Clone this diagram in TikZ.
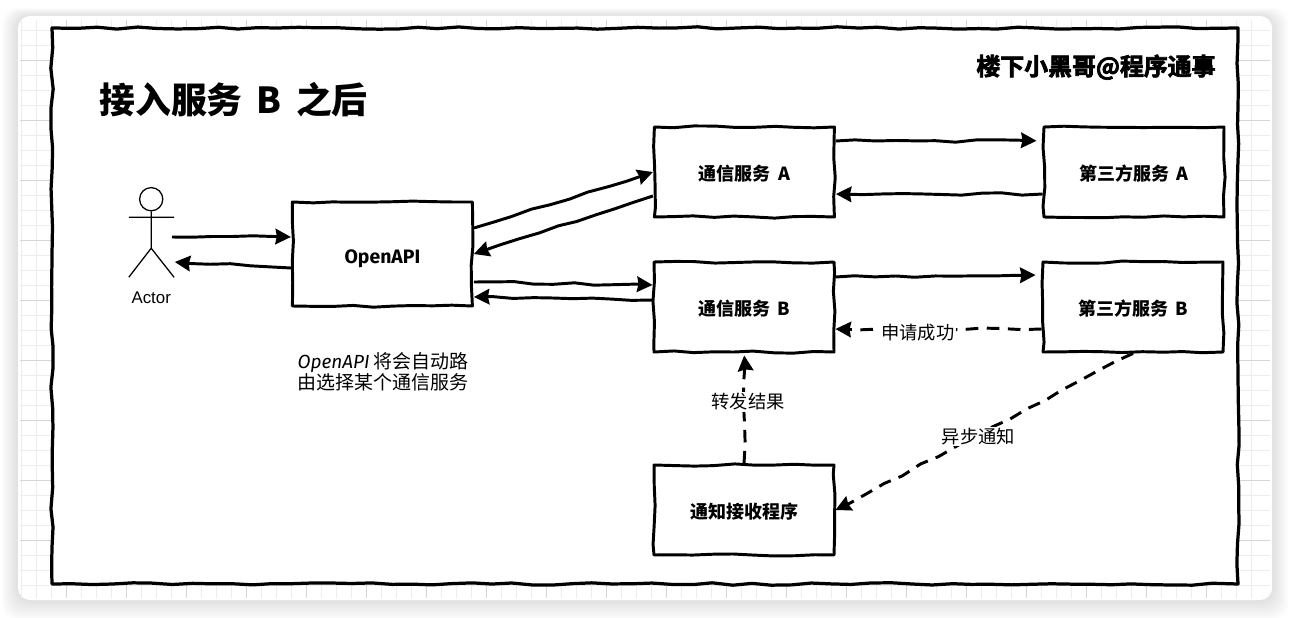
\documentclass[tikz,border=0pt]{standalone}
\usepackage{fontspec}
\usetikzlibrary{
    arrows.meta,
    decorations.pathmorphing,
    positioning
}
\setmainfont{Noto Sans CJK SC}
\newfontfamily\handfont{Fira Sans}
\newfontfamily\actorfont{Liberation Sans}
\newfontfamily\markfont[FakeBold=3]{Noto Sans CJK SC Bold}
\tikzset{
    sketchy/.style={decorate, decoration={random steps, segment length=0.5cm, amplitude=0.03cm}},
    svcbox/.style={draw, sketchy, line join=round, line width=2.1pt, minimum width=4.5cm, minimum height=2.25cm, text height=13.5pt, font=\fontsize{12.8}{15}\selectfont\bfseries},
    flow/.style={->, sketchy, line width=2.1pt},
    asyncflow/.style={flow, dashed, dash pattern=on 9pt off 6pt},
    edgelabel/.style={fill=white, inner sep=1pt, font=\fontsize{13}{15}\selectfont},
    >={Stealth[length=11pt, width=11pt, inset=1pt]}
}

\begin{document}
\begin{tikzpicture}
    \useasboundingbox (0, 0) rectangle (32.25, -15.45);
    \pgfmathsetseed{7}

    % card with its shadow and grid
    \foreach \s in {1,...,10}
        \fill[black, opacity=0.012, rounded corners=0.4cm]
            (0.45-\s*0.04, -0.4+\s*0.02) rectangle (31.8+\s*0.04, -15-\s*0.05);
    \fill[white, rounded corners=0.3cm] (0.45, -0.4) rectangle (31.8, -15);
    \foreach \k in {1,...,83}
        \draw[black!7, line width=0.4pt] (0.15+\k*0.375, -0.5) -- (0.15+\k*0.375, -14.95);
    \foreach \k in {2,...,39}
        \draw[black!7, line width=0.4pt] (0.5, -\k*0.375) -- (31.75, -\k*0.375);
    \foreach \k in {1,...,20}
        \draw[black!16, line width=0.4pt] (0.15+\k*1.5, -0.5) -- (0.15+\k*1.5, -14.95);
    \foreach \k in {1,...,9}
        \draw[black!16, line width=0.4pt] (0.5, -\k*1.5) -- (31.75, -\k*1.5);

    \node[draw, sketchy, line join=round, fill=white, line width=2.3pt, minimum width=29.65cm, minimum height=13.9cm] (frame) at (16.125, -7.65) {};

    \node[font=\fontsize{25.5}{30}\selectfont\bfseries] (title) at (5.84, -2.48) {接入服务 \,B\, 之后};
    \node[font=\fontsize{17}{20}\selectfont\markfont] (mark) at (27.4, -1.68) {楼下小黑哥@程序通事};

    % actor
    \node[draw, circle, line width=0.9pt, minimum size=0.58cm, inner sep=0pt] (head) at (3.78, -4.98) {};
    \coordinate[below=0.92cm of head] (hip);
    \coordinate (actorout) at (4.3, -5.925);
    \coordinate (actorin) at (4.37, -6.55);
    \draw[line width=0.9pt]
        (head.south) -- (hip)
        (3.22, -5.43) -- (4.35, -5.43)
        (3.22, -6.93) -- (hip) -- (4.35, -6.93);
    \node[font=\fontsize{12}{14}\selectfont\actorfont] (actor) at (3.78, -7.45) {Actor};

    \node[svcbox, minimum height=2.6cm, text height=16pt, font=\fontsize{13.8}{16}\selectfont\handfont\bfseries] (api) at (9.56, -6.35) {OpenAPI};
    \node[svcbox] (svca) at (18.61, -4.3) {通信服务 \,A};
    \node[svcbox] (svcb) at (18.6, -7.675) {通信服务 \,B};
    \node[svcbox] (thirda) at (28.35, -4.3) {第三方服务 \,A};
    \node[svcbox] (thirdb) at (28.325, -7.675) {第三方服务 \,B};
    \node[svcbox] (notify) at (18.6, -12.75) {通知接收程序};

    \node[align=center, font=\fontsize{13.5}{15}\selectfont] (note) at (9.58, -9.3) {{\handfont\itshape OpenAPI} 将会自动路\\由选择某个通信服务};

    \draw
    (actorout) edge[flow] ([yshift=0.425cm]api.west)
    ([yshift=-0.35cm]api.west) edge[flow] (actorin)
    ([yshift=0.65cm]api.east) edge[flow] (svca.west)
    ([yshift=-0.6cm]svca.west) edge[flow] (api.east)
    ([yshift=-0.7cm]api.east) edge[flow] ([yshift=0.55cm]svcb.west)
    ([yshift=0.175cm]svcb.west) edge[flow] ([yshift=-1.075cm]api.east)
    ([yshift=0.775cm]svca.east) edge[flow, shorten >=0.15cm] ([yshift=0.775cm]thirda.west)
    ([yshift=-0.55cm]thirda.west) edge[flow] ([yshift=-0.55cm]svca.east)
    ([yshift=0.75cm]svcb.east) edge[flow, shorten >=0.15cm] ([yshift=0.8cm]thirdb.west)
    ([yshift=-0.55cm]thirdb.west) edge[asyncflow] node[edgelabel, pos=0.6, yshift=-0.1cm] (applied) {申请成功} ([yshift=-0.55cm]svcb.east)
    (thirdb.south) edge[asyncflow] node[edgelabel, pos=0.53, xshift=0.08cm] (asyncnote) {异步通知} (notify.east)
    (notify.north) edge[asyncflow, shorten >=0.05cm] node[edgelabel, pos=0.56, xshift=0.1cm] (forward) {转发结果} (svcb.south);
\end{tikzpicture}
\end{document}
